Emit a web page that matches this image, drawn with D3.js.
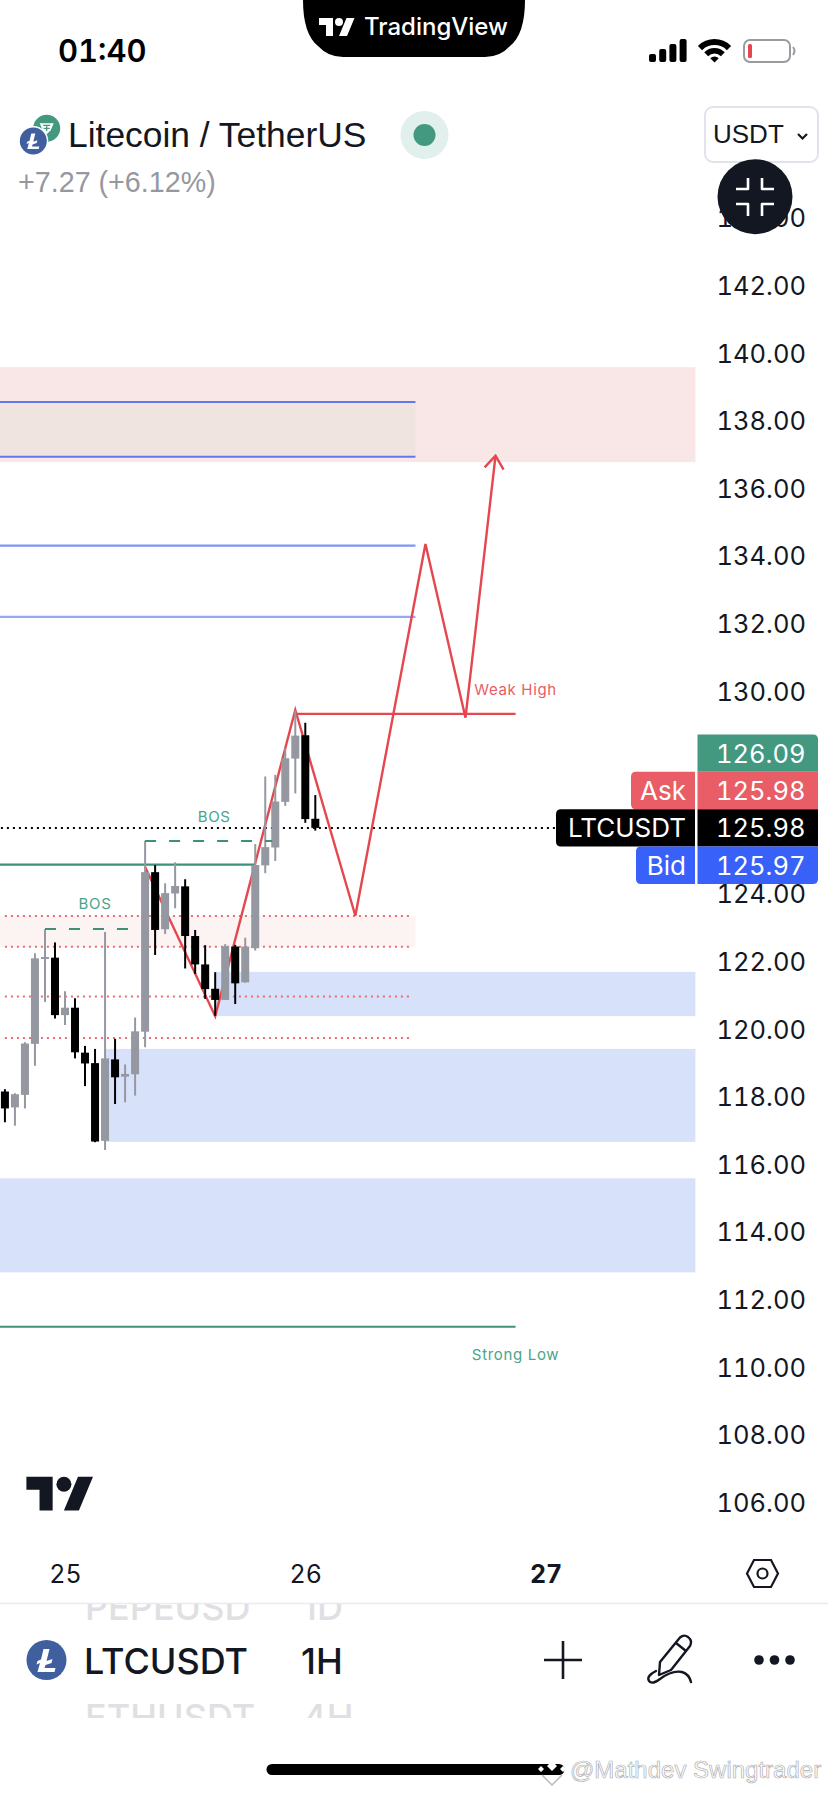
<!DOCTYPE html>
<html>
<head>
<meta charset="utf-8">
<script src="https://cdn.jsdelivr.net/npm/d3@7"></script>
<style>
  html, body { margin: 0; padding: 0; background: #fff; }
  svg { display: block; font-family: Inter, 'Liberation Sans', sans-serif; font-variant-numeric: tabular-nums; }
</style>
</head>
<body>
<div id="frame"></div>
<script>
/* global d3 */

// candles, hours counted from the start of the 25th
const hours = [-6, -5, -4, -3, -2, -1, 0, 1, 2, 3, 4, 5, 6, 7, 8, 9, 10, 11, 12, 13, 14, 15, 16, 17, 18, 19, 20, 21, 22, 23, 24, 25]
const opens = [118.18, 117.71, 118.08, 119.59, 122.11, 122.14, 120.44, 120.66, 119.33, 119.02, 116.72, 119.13, 118.62, 118.69, 119.95, 124.67, 122.98, 124.04, 124.25, 122.78, 121.94, 121.22, 120.89, 122.47, 121.41, 122.42, 124.87, 125.40, 126.75, 128.03, 128.72, 126.25]
const closes = [117.68, 118.10, 119.60, 122.12, 122.16, 120.44, 120.66, 119.34, 119.01, 116.70, 119.16, 118.60, 118.70, 119.96, 124.67, 122.96, 124.05, 124.26, 122.78, 121.94, 121.21, 120.89, 122.48, 121.38, 122.47, 124.88, 125.41, 126.76, 128.04, 128.71, 126.24, 125.98]
const highs = [118.25, 118.13, 119.64, 122.27, 122.98, 122.59, 121.15, 120.94, 119.53, 119.44, 122.90, 119.74, 118.98, 120.37, 125.60, 124.88, 124.34, 124.96, 124.46, 122.96, 122.51, 121.71, 122.54, 122.52, 122.73, 125.50, 127.50, 127.55, 128.33, 129.45, 129.09, 126.95]
const lows = [117.27, 117.17, 117.68, 118.94, 120.83, 120.34, 120.15, 119.16, 118.34, 116.68, 116.45, 117.81, 117.86, 118.06, 119.49, 122.22, 122.84, 123.60, 121.82, 121.66, 120.92, 120.42, 120.89, 120.77, 121.40, 122.35, 124.64, 125.00, 126.63, 127.00, 126.13, 125.90]

const priceTicks = [144, 142, 140, 138, 136, 134, 132, 130, 128, 126, 124, 122, 120, 118, 116, 114, 112, 110, 108, 106]
const hiddenTicks = [128, 126]
const dayTicks = [0, 24, 48]
const dayLabels = ['25', '26', '27']

// drawn zones: from hour, to hour, top price, bottom price
const zoneFrom = [-7, -7, -7, 15, 4, -7]
const zoneTo = [63, 35, 35, 63, 63, 63]
const zoneTop = [139.61, 138.58, 123.37, 121.72, 119.44, 115.61]
const zoneBottom = [136.80, 136.96, 122.46, 120.41, 116.69, 112.83]
const zoneColors = ['#f9e6e6', '#f0e4e1', '#fcf4f3', '#d7e1f9', '#d7e1f9', '#d7e1f9']

const blueLevels = [138.58, 136.96, 134.33, 132.22]
const blueColors = ['#6478ea', '#6478ea', '#7f95f2', '#93a8f6']
const dottedLevels = [123.37, 122.46, 120.99, 119.76]

// projection drawn on the chart
const pathHours = [8, 15, 23, 29, 36, 40, 43]
const pathPrices = [124.82, 120.41, 129.47, 123.38, 134.38, 129.24, 136.99]

const bosHours = [[-2, 6.4], [8, 20.7]]
const bosPrices = [122.99, 125.59]
const bosTextHours = [3, 14.9]
const bosTextPrices = [123.57, 126.16]

const lastPrice = 125.98
// price tags, stacked from the top down
const tagLabels = ['', 'Ask', 'LTCUSDT', 'Bid']
const tagValues = ['126.09', '125.98', '125.98', '125.97']
const tagColors = ['#439880', '#e85d66', '#000000', '#3861fa']
const tagLeftEdges = [null, 631, 556, 636]

const width = 828
const height = 1793
const ink = '#131722'
const red = '#e5474f'
const green = '#3c9279'
const helvetica = "'Liberation Sans', sans-serif"

const x = d3.scaleLinear().domain([0, 48]).range([65, 545.6])
const y = d3.scaleLinear().domain([106, 144]).range([1503.2, 218.8])

const svg = d3.select('#frame').append('svg')
  .attr('width', width)
  .attr('height', height)
  .attr('viewBox', `0 0 ${width} ${height}`)

svg.append('rect').attr('width', width).attr('height', height).attr('fill', '#fff')

const clip = svg.append('defs')
clip.append('clipPath').attr('id', 'plot')
  .append('rect').attr('width', 695.5).attr('height', height)
clip.append('clipPath').attr('id', 'picker')
  .append('rect').attr('y', 1604).attr('width', width).attr('height', 114)

drawZones()
drawLevels()
drawProjection()
drawCandles()
drawBos()
drawAxes()
drawTags()
drawHeader()
drawFooter()

function drawZones () {
  svg.append('g').attr('clip-path', 'url(#plot)')
    .selectAll('rect')
    .data(d3.range(zoneTop.length))
    .join('rect')
    .attr('x', i => x(zoneFrom[i]))
    .attr('y', i => y(zoneTop[i]))
    .attr('width', i => x(zoneTo[i]) - x(zoneFrom[i]))
    .attr('height', i => y(zoneBottom[i]) - y(zoneTop[i]))
    .attr('fill', i => zoneColors[i])
}

function hLine (g, price, fromHour, toHour) {
  return g.append('line')
    .attr('x1', x(fromHour))
    .attr('x2', x(toHour))
    .attr('y1', y(price))
    .attr('y2', y(price))
}

function drawLevels () {
  const g = svg.append('g')

  blueLevels.forEach((p, i) => {
    hLine(g, p, -7, 35).attr('stroke', blueColors[i]).attr('stroke-width', 2.2)
  })
  dottedLevels.forEach(p => {
    hLine(g, p, -6, 34.7)
      .attr('stroke', '#ee6c72')
      .attr('stroke-width', 2)
      .attr('stroke-dasharray', '2 4')
  })
  hLine(g, 124.89, -7, 19).attr('stroke', green).attr('stroke-width', 2.2)
  hLine(g, 111.22, -7, 45).attr('stroke', green).attr('stroke-width', 2.2)
  hLine(g, 129.35, 23, 45).attr('stroke', red).attr('stroke-width', 2.2)

  g.append('text')
    .attr('x', x(45))
    .attr('y', y(129.92))
    .attr('text-anchor', 'middle')
    .attr('fill', '#e85d66')
    .attr('font-size', 15)
    .attr('letter-spacing', 0.7)
    .text('Weak High')
  g.append('text')
    .attr('x', x(45))
    .attr('y', y(110.24))
    .attr('text-anchor', 'middle')
    .attr('fill', '#4aa58b')
    .attr('font-size', 15)
    .attr('letter-spacing', 0.7)
    .text('Strong Low')

  hLine(g, lastPrice, -7, 49.5)
    .attr('stroke', '#000')
    .attr('stroke-width', 2)
    .attr('stroke-dasharray', '2 4')
}

function drawProjection () {
  const line = d3.line()
    .x(i => x(pathHours[i]))
    .y(i => y(pathPrices[i]))

  const g = svg.append('g')
    .attr('fill', 'none')
    .attr('stroke', red)
    .attr('stroke-width', 2.4)
    .attr('stroke-linejoin', 'miter')

  g.append('path').attr('d', line(d3.range(pathHours.length)))

  // arrow head at the last point
  const n = pathHours.length - 1
  const tx = x(pathHours[n])
  const ty = y(pathPrices[n])
  const angle = Math.atan2(ty - y(pathPrices[n - 1]), tx - x(pathHours[n - 1]))
  const head = [angle + 2.5, angle - 2.5].map(a => [tx + 16 * Math.cos(a), ty + 16 * Math.sin(a)])
  g.append('path').attr('d', `M${head[0]}L${tx},${ty}L${head[1]}`)
}

function drawCandles () {
  const g = svg.append('g')
    .selectAll('g')
    .data(d3.range(hours.length))
    .join('g')
    .attr('data-hour', i => hours[i])

  const color = i => closes[i] >= opens[i] ? '#9598a1' : '#000'

  g.append('line')
    .attr('x1', i => x(hours[i]))
    .attr('x2', i => x(hours[i]))
    .attr('y1', i => y(highs[i]))
    .attr('y2', i => y(lows[i]))
    .attr('stroke', color)
    .attr('stroke-width', 2)

  g.append('rect')
    .attr('x', i => x(hours[i]) - 4)
    .attr('width', 8)
    .attr('y', i => y(Math.max(opens[i], closes[i])))
    .attr('height', i => Math.max(2, Math.abs(y(opens[i]) - y(closes[i]))))
    .attr('fill', color)
}

function drawBos () {
  const g = svg.append('g')

  bosPrices.forEach((p, i) => {
    hLine(g, p, bosHours[i][0], bosHours[i][1])
      .attr('stroke', green)
      .attr('stroke-width', 2)
      .attr('stroke-dasharray', '11 13')
    g.append('text')
      .attr('x', x(bosTextHours[i]))
      .attr('y', y(bosTextPrices[i]))
      .attr('text-anchor', 'middle')
      .attr('fill', '#4aa58b')
      .attr('font-size', 15)
      .attr('letter-spacing', 0.7)
      .text('BOS')
  })
}

function drawAxes () {
  const yAxis = d3.axisRight(y)
    .tickValues(priceTicks.filter(t => !hiddenTicks.includes(t)))
    .tickFormat(d3.format('.2f'))
    .tickSize(0)

  const gy = svg.append('g')
    .attr('transform', 'translate(806,0)')
    .call(yAxis)
  gy.select('.domain').remove()
  gy.selectAll('text')
    .attr('x', 0)
    .attr('text-anchor', 'end')
    .attr('fill', ink)
    .attr('font-size', 25.5)
    .style('font-family', 'Inter')

  const xAxis = d3.axisBottom(x)
    .tickValues(dayTicks)
    .tickFormat((d, i) => dayLabels[i])
    .tickSize(0)

  const gx = svg.append('g')
    .attr('transform', 'translate(0,1558)')
    .call(xAxis)
  gx.select('.domain').remove()
  gx.selectAll('text')
    .attr('y', 0)
    .attr('dy', 0)
    .attr('transform', 'translate(0,25)')
    .attr('fill', ink)
    .attr('font-size', 25)
    .style('font-family', 'Inter')
    .attr('font-weight', (d, i) => i === 2 ? 700 : 400)
}

function drawTags () {
  const rowH = 37.4
  const top = y(lastPrice) - rowH * 2.5 // the last price row stays on the price

  const g = svg.append('g')
  tagValues.forEach((v, i) => {
    const rowY = top + i * rowH
    const first = i === 0
    const last = i === tagValues.length - 1
    // right tag
    g.append('path')
      .attr('d', roundedBox(697.5, rowY, 120.5, rowH, 0, first ? 5 : 0, last ? 5 : 0, 0))
      .attr('fill', tagColors[i])
    g.append('text')
      .attr('x', 805.5)
      .attr('y', rowY + rowH / 2 + 9.5)
      .attr('text-anchor', 'end')
      .attr('fill', '#fff')
      .attr('font-size', 25.5)
      .text(v)
    if (tagLabels[i]) {
      g.append('path')
        .attr('d', roundedBox(tagLeftEdges[i], rowY, 695 - tagLeftEdges[i], rowH, 5, 0, 0, 5))
        .attr('fill', tagColors[i])
      g.append('text')
        .attr('x', 686)
        .attr('y', rowY + rowH / 2 + 9.5)
        .attr('text-anchor', 'end')
        .attr('fill', '#fff')
        .attr('font-size', 26)
        .text(tagLabels[i])
    }
  })
}

function roundedBox (bx, by, w, h, tl, tr, br, bl) {
  return `M${bx + tl},${by}H${bx + w - tr}Q${bx + w},${by} ${bx + w},${by + tr}` +
    `V${by + h - br}Q${bx + w},${by + h} ${bx + w - br},${by + h}` +
    `H${bx + bl}Q${bx},${by + h} ${bx},${by + h - bl}` +
    `V${by + tl}Q${bx},${by} ${bx + tl},${by}Z`
}

function tvLogo (parent, tx, ty, k, fill) {
  const g = parent.append('g')
    .attr('transform', `translate(${tx},${ty}) scale(${k})`)
    .attr('fill', fill)
  g.append('path').attr('d', 'M14 22H7V11H0V4h14v18zM28 22h-8l7.5-18h8L28 22z')
  g.append('circle').attr('cx', 20).attr('cy', 8).attr('r', 4)
}

function ltcIcon (parent, cx, cy, r) {
  const g = parent.append('g').attr('transform', `translate(${cx},${cy}) scale(${r / 20})`)
  g.append('circle').attr('r', 20).attr('fill', '#3f5f9f')
  g.append('path')
    .attr('d', 'M-3,-11L3,-11L0,1L6,-1L5,3L-1,5L-2,8L9,8L8,12L-9,12L-6.5,3L-10,4.5L-9,1L-5.5,-0.5Z')
    .attr('fill', '#fff')
}

function drawHeader () {
  const g = svg.append('g')

  // status bar
  g.append('text')
    .attr('x', 58)
    .attr('y', 62)
    .attr('font-size', 31)
    .attr('font-weight', 600)
    .attr('fill', '#000')
    .text('01:40')

  g.append('path')
    .attr('d', 'M303,0H525V0Q525,34 510,46Q500,57 485,57H343Q328,57 318,46Q303,34 303,0Z')
    .attr('fill', '#000')
  tvLogo(g, 319, 14, 1, '#fff')
  g.append('text')
    .attr('x', 364)
    .attr('y', 35)
    .attr('font-size', 24)
    .attr('font-weight', 500)
    .attr('fill', '#fff')
    .text('TradingView')

  // signal, wifi, battery
  const barHeights = [8, 13, 18, 23]
  barHeights.forEach((h, i) => {
    g.append('rect')
      .attr('x', 649 + i * 10.2)
      .attr('y', 62 - h)
      .attr('width', 7)
      .attr('height', h)
      .attr('rx', 2)
      .attr('fill', '#000')
  })
  const fan = d3.arc().startAngle(-Math.PI / 4).endAngle(Math.PI / 4)
  const wifiBands = [[17.5, 23.5], [9, 14.5], [0, 6]]
  wifiBands.forEach(b => {
    g.append('path')
      .attr('transform', 'translate(714.5,62.5)')
      .attr('d', fan({innerRadius: b[0], outerRadius: b[1]}))
      .attr('fill', '#000')
  })
  g.append('rect').attr('x', 744).attr('y', 40).attr('width', 46).attr('height', 22).attr('rx', 6)
    .attr('fill', '#fff').attr('stroke', '#9a9aa0').attr('stroke-width', 2)
  g.append('rect').attr('x', 748).attr('y', 44).attr('width', 4).attr('height', 14).attr('rx', 1.5)
    .attr('fill', '#e5474f')
  g.append('path').attr('d', 'M793,47Q796,51 793,55').attr('fill', 'none')
    .attr('stroke', '#9a9aa0').attr('stroke-width', 2)

  // symbol title
  const tether = g.append('g').attr('transform', 'translate(46.7,128.3)')
  tether.append('circle').attr('r', 13.5).attr('fill', '#439880')
  tether.append('path').attr('d', 'M-7,-5H7L4,2L0,6L-4,2Z').attr('fill', '#fff')
  tether.append('path').attr('d', 'M-3.5,-3H3.5M0,-3V3M-3,0H3').attr('stroke', '#439880')
    .attr('stroke-width', 1.2).attr('fill', 'none')
  g.append('circle').attr('cx', 33.3).attr('cy', 141).attr('r', 15).attr('fill', '#fff')
  ltcIcon(g, 33.3, 141, 13.5)

  g.append('text')
    .attr('x', 68)
    .attr('y', 147)
    .attr('font-size', 35.4)
    .style('font-family', helvetica)
    .attr('fill', ink)
    .text('Litecoin / TetherUS')
  g.append('text')
    .attr('x', 18)
    .attr('y', 192)
    .attr('font-size', 28.7)
    .style('font-family', helvetica)
    .attr('fill', '#9598a1')
    .text('+7.27 (+6.12%)')

  g.append('circle').attr('cx', 424.5).attr('cy', 135).attr('r', 24).attr('fill', '#e1f0ec')
  g.append('circle').attr('cx', 424.5).attr('cy', 135).attr('r', 11).attr('fill', '#439880')

  // currency button
  g.append('rect')
    .attr('x', 705).attr('y', 107).attr('width', 113).attr('height', 55).attr('rx', 8)
    .attr('fill', '#fff').attr('stroke', '#e0e3eb').attr('stroke-width', 2)
  g.append('text')
    .attr('x', 713)
    .attr('y', 143)
    .attr('font-size', 26)
    .style('font-family', helvetica)
    .attr('fill', ink)
    .text('USDT')
  g.append('path').attr('d', 'M798,134L802.5,138.5L807,134')
    .attr('fill', 'none').attr('stroke', ink).attr('stroke-width', 2.2)

  // fullscreen button, covers the 144.00 label
  g.append('circle').attr('cx', 755).attr('cy', 196.7).attr('r', 37.5).attr('fill', ink)
  g.append('path')
    .attr('d', 'M736,189H748V178M762,178V189H774M736,204H748V216M762,216V204H774')
    .attr('fill', 'none')
    .attr('stroke', '#fff')
    .attr('stroke-width', 2.6)
    .attr('stroke-linejoin', 'round')
}

function drawFooter () {
  const g = svg.append('g')

  tvLogo(g, 26.4, 1469.2, 1.876, ink)

  // hexagon settings button
  g.append('path')
    .attr('d', 'M754,1560H771L778,1573.5L771,1587H754L747,1573.5Z')
    .attr('fill', 'none').attr('stroke', ink).attr('stroke-width', 2.2)
  g.append('circle').attr('cx', 762.5).attr('cy', 1573.5).attr('r', 5)
    .attr('fill', 'none').attr('stroke', ink).attr('stroke-width', 2.2)

  g.append('line')
    .attr('x1', 0).attr('x2', width).attr('y1', 1603.5).attr('y2', 1603.5)
    .attr('stroke', '#e9ebef').attr('stroke-width', 1.5)

  // symbol and interval picker, neighbours cut off
  const picker = g.append('g').attr('clip-path', 'url(#picker)')
  const fade = (label, px, py) => picker.append('text')
    .attr('x', px).attr('y', py)
    .attr('font-size', 36)
    .attr('font-weight', 500)
    .style('font-variant-numeric', 'normal')
    .attr('fill', '#dfe0e4')
    .text(label)
  fade('PEPEUSD', 85, 1620)
  fade('1D', 302, 1620)
  fade('ETHUSDT', 85, 1730)
  fade('4H', 303, 1730)

  ltcIcon(g, 46.5, 1660, 20)
  g.append('text')
    .attr('x', 84).attr('y', 1674)
    .attr('font-size', 36)
    .attr('font-weight', 500)
    .attr('fill', ink)
    .text('LTCUSDT')
  g.append('text')
    .attr('x', 301).attr('y', 1674)
    .attr('font-size', 36)
    .attr('font-weight', 500)
    .style('font-variant-numeric', 'normal')
    .attr('fill', ink)
    .text('1H')

  g.append('path').attr('d', 'M563,1641V1679M544,1660H582')
    .attr('stroke', ink).attr('stroke-width', 2.6).attr('fill', 'none')

  g.append('path')
    .attr('d', 'M680,1637.5Q684,1634 688,1637L690,1639Q692,1642 690,1646L671,1670L659,1675L660,1662ZM676,1643L686,1651')
    .attr('fill', 'none').attr('stroke', ink).attr('stroke-width', 2.4).attr('stroke-linejoin', 'round')
  g.append('path')
    .attr('d', 'M656,1671Q646,1676 649,1681Q652,1685 660,1679Q672,1670 682,1672Q689,1674 691,1682')
    .attr('fill', 'none').attr('stroke', ink).attr('stroke-width', 2.4).attr('stroke-linecap', 'round')

  d3.range(3).forEach(i => {
    g.append('circle').attr('cx', 759 + i * 15.5).attr('cy', 1660).attr('r', 4.8).attr('fill', ink)
  })

  // home bar and watermark
  g.append('rect')
    .attr('x', 266.5).attr('y', 1764).attr('width', 298).attr('height', 11).attr('rx', 5.5)
    .attr('fill', '#000')
  g.append('path').attr('d', 'M542,1775L552,1785L562,1775')
    .attr('fill', 'none').attr('stroke', '#b9b9b9').attr('stroke-width', 1.5)
  g.append('path').attr('d', 'M552,1761L557,1766L552,1771L547,1766ZM541,1766L544,1769L541,1772L538,1769ZM563,1766L566,1769L563,1772L560,1769Z')
    .attr('fill', '#fff')
  g.append('text')
    .attr('x', 570)
    .attr('y', 1778)
    .attr('font-size', 24)
    .style('font-family', helvetica)
    .attr('fill', '#fff')
    .attr('stroke', '#b0b0b0')
    .attr('stroke-width', 0.7)
    .text('@Mathdev Swingtrader')
}
</script>
</body>
</html>
